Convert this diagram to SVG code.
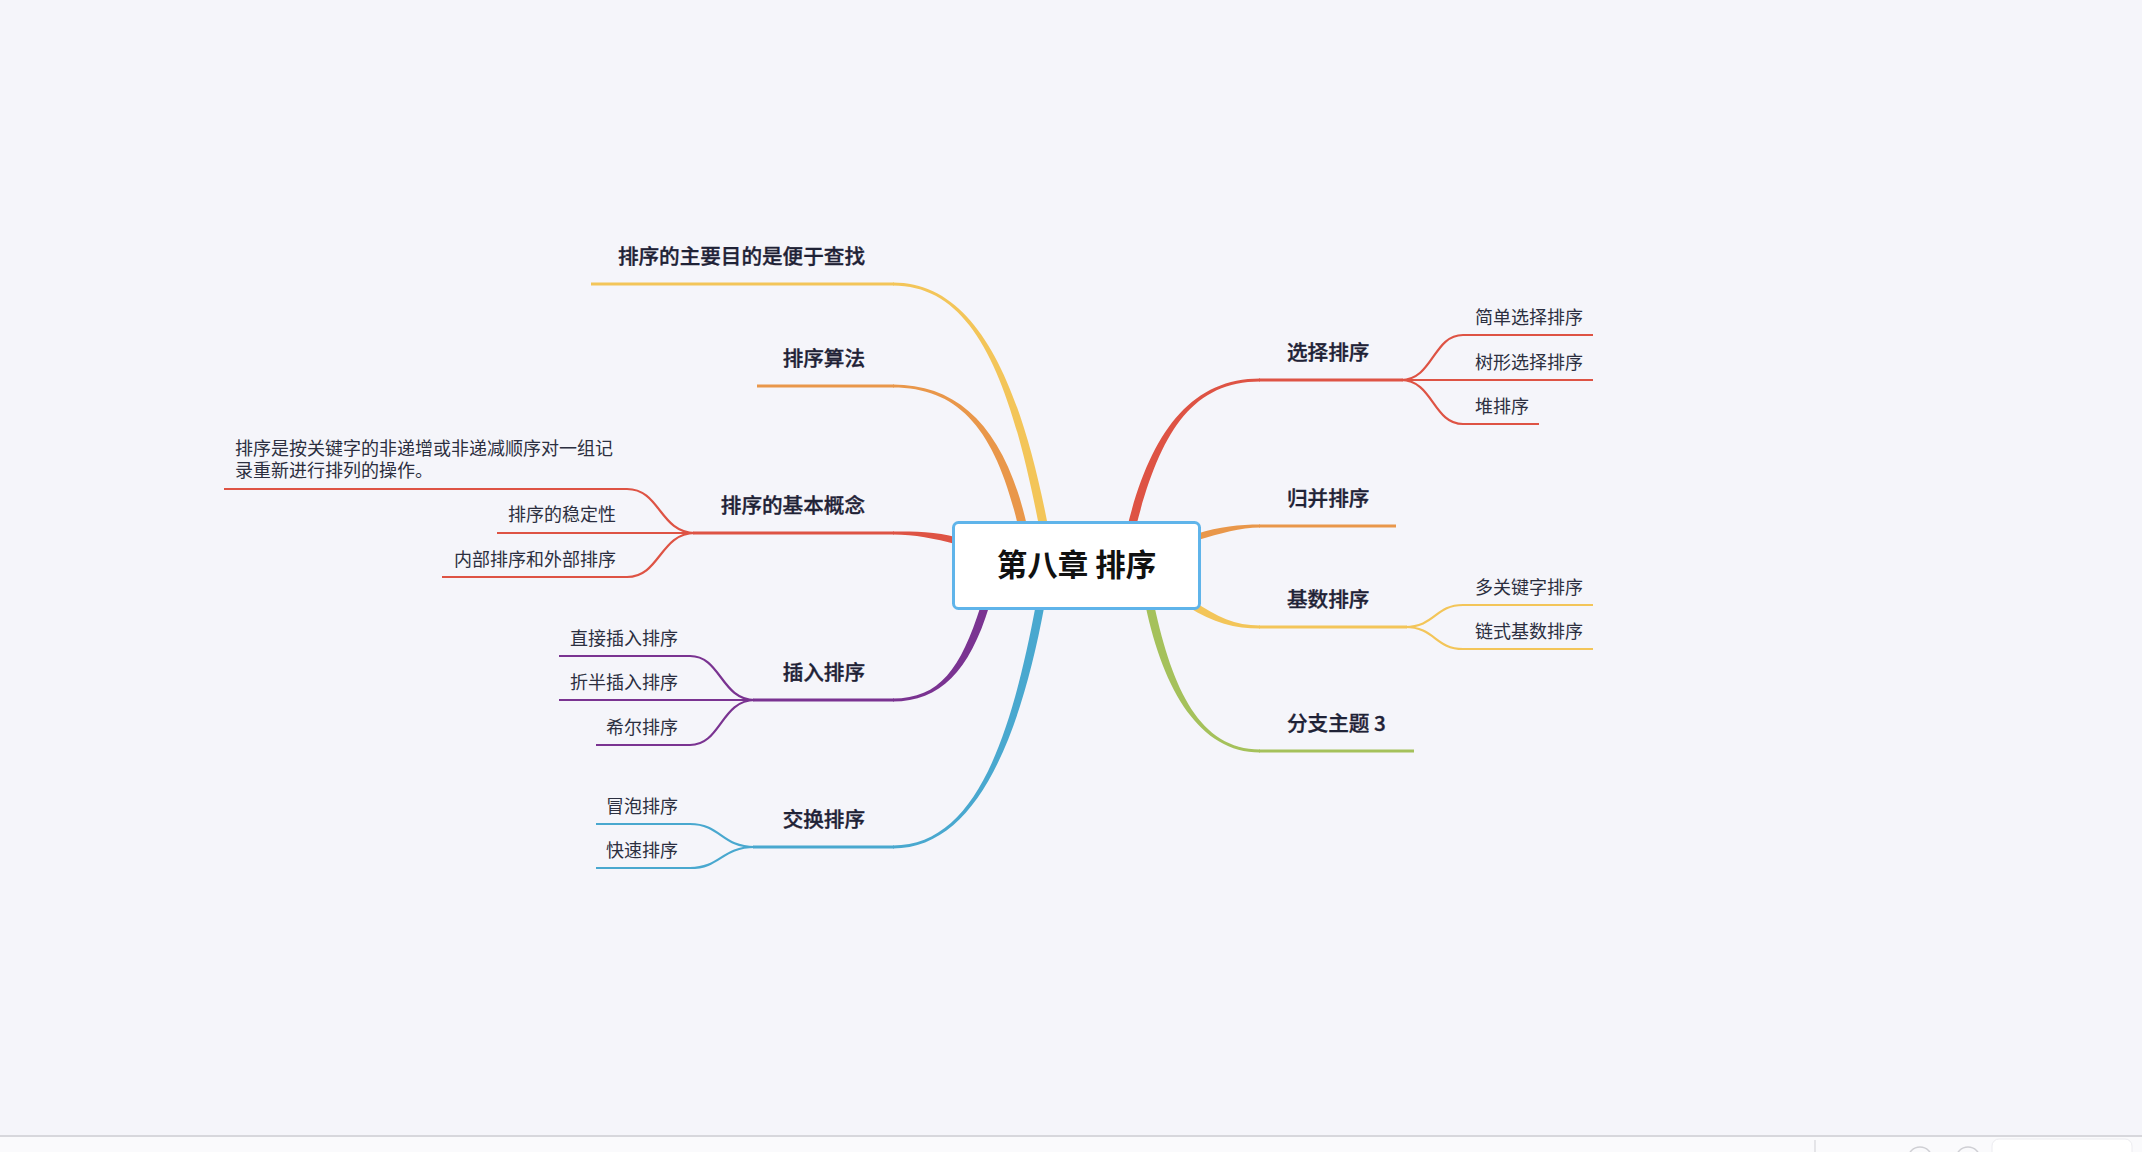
<svg xmlns="http://www.w3.org/2000/svg" width="2142" height="1152" viewBox="0 0 2142 1152">
<style>
.main{font-family:"Noto Sans CJK SC","Noto Sans",sans-serif;font-size:20.6px;font-weight:500;fill:#1f2236;stroke:#1f2236;stroke-width:0.35px}
.sub{font-family:"Noto Sans CJK SC","Noto Sans",sans-serif;font-size:18px;font-weight:400;fill:#2c2f40}
.ctr{font-family:"Noto Sans CJK SC","Noto Sans",sans-serif;font-size:30.5px;font-weight:700;fill:#111}
.l3{fill:none;stroke-width:3;stroke-linecap:butt}
.l2{fill:none;stroke-width:2.2;stroke-linecap:butt}
.yel{stroke:#f3c559}.yelf{fill:#f3c559}
.org{stroke:#e9974a}.orgf{fill:#e9974a}
.red{stroke:#de5344}.redf{fill:#de5344}
.pur{stroke:#7a3391}.purf{fill:#7a3391}
.blu{stroke:#49a8cf}.bluf{fill:#49a8cf}
.grn{stroke:#a5c15b}.grnf{fill:#a5c15b}
</style>
<rect x="0" y="0" width="2142" height="1152" fill="#f5f5fa"/>
<g id="statusbar">
<rect x="0" y="1137" width="2142" height="15" fill="#fafafc"/>
<line x1="0" y1="1136" x2="2142" y2="1136" stroke="#d7d7dc" stroke-width="2"/>
<line x1="1815" y1="1140" x2="1815" y2="1152" stroke="#cfcfd4" stroke-width="1"/>
<circle cx="1920" cy="1159" r="12" fill="none" stroke="#cfcfd4" stroke-width="1.5"/>
<circle cx="1968" cy="1159" r="12" fill="none" stroke="#cfcfd4" stroke-width="1.5"/>
<rect x="1992" y="1139" width="140" height="24" rx="7" fill="#ffffff" stroke="#ececf0" stroke-width="1"/>
</g>
<g id="connectors">
<path class="yelf" d="M1047.4,523 C1019.4,379.1 975,282.5 893,282.5 L893,285.5 C975,285.5 1010.6,380.9 1038.6,524 Z"/>
<path class="orgf" d="M1026.4,523 C1004.4,429 960,384.5 893,384.5 L893,387.5 C960,387.5 995.6,431 1017.6,524 Z"/>
<path class="redf" d="M957,537.6 C936,531.6 915,531.5 893,531.5 L893,534.5 C915,534.5 934,538.4 957,544.4 Z"/>
<path class="purf" d="M980.7,606 C960.7,668.6 940,698.5 893,698.5 L893,701.5 C940,701.5 969.3,671.4 989.3,606 Z"/>
<path class="bluf" d="M1035.6,606 C1010.6,739.2 975,845.5 893,845.5 L893,848.5 C975,848.5 1019.4,740.8 1044.4,606 Z"/>
<path class="redf" d="M1136.4,525 C1159.4,436.2 1190,381.5 1260,381.5 L1260,378.5 C1190,378.5 1150.7,433.8 1127.7,525 Z"/>
<path class="orgf" d="M1197,540.3 C1221.1,533.3 1240,527.5 1260,527.5 L1260,524.5 C1240,524.5 1218.9,526.7 1197,533.7 Z"/>
<path class="yelf" d="M1188.2,607 C1213.2,623 1235,628.5 1260,628.5 L1260,625.5 C1235,625.5 1216.8,617 1193.8,601 Z"/>
<path class="grnf" d="M1145.6,606 C1163.6,691 1200,752.5 1260,752.5 L1260,749.5 C1200,749.5 1172.4,689 1154.4,606 Z"/>
<line class="l3 yel" x1="591" y1="284" x2="894" y2="284"/>
<line class="l3 org" x1="757" y1="386" x2="894" y2="386"/>
<line class="l3 red" x1="693" y1="533" x2="894" y2="533"/>
<line class="l3 pur" x1="753" y1="700" x2="894" y2="700"/>
<line class="l3 blu" x1="753" y1="847" x2="894" y2="847"/>
<line class="l3 red" x1="1259" y1="380" x2="1403" y2="380"/>
<line class="l3 org" x1="1259" y1="526" x2="1396" y2="526"/>
<line class="l3 yel" x1="1259" y1="627" x2="1407" y2="627"/>
<line class="l3 grn" x1="1259" y1="751" x2="1414" y2="751"/>
<path class="l2 red" d="M224,489 L627,489 C660,489 660,533 695,533"/>
<line class="l2 red" x1="497" y1="533" x2="695" y2="533"/>
<path class="l2 red" d="M442,577 L627,577 C660,577 660,533 695,533"/>
<path class="l2 pur" d="M559,656 L690,656 C721,656 721,700 755,700"/>
<line class="l2 pur" x1="559" y1="700" x2="755" y2="700"/>
<path class="l2 pur" d="M596,745 L690,745 C721,745 721,700 755,700"/>
<path class="l2 blu" d="M596,824 L690,824 C721,824 721,847 755,847"/>
<path class="l2 blu" d="M596,868 L690,868 C721,868 721,847 755,847"/>
<path class="l2 red" d="M1401,380 C1433,380 1433,335 1463,335 L1593,335"/>
<line class="l2 red" x1="1401" y1="380" x2="1593" y2="380"/>
<path class="l2 red" d="M1401,380 C1433,380 1433,424 1463,424 L1539,424"/>
<path class="l2 yel" d="M1405,627 C1435,627 1435,605 1463,605 L1593,605"/>
<path class="l2 yel" d="M1405,627 C1435,627 1435,649 1463,649 L1593,649"/>
</g>
<g id="center">
<rect x="953.5" y="522.5" width="246" height="86" rx="5" fill="#ffffff" stroke="#5fb4ea" stroke-width="3"/>
<text class="ctr" x="1076.5" y="576" text-anchor="middle">第八章 排序</text>
</g>
<g id="n-purpose"><text class="main" x="865" y="264" text-anchor="end">排序的主要目的是便于查找</text></g>
<g id="n-algo"><text class="main" x="865" y="366" text-anchor="end">排序算法</text></g>
<g id="n-concept"><text class="main" x="865" y="513" text-anchor="end">排序的基本概念</text></g>
<g id="n-concept-def"><text class="sub" x="235" y="455">排序是按关键字的非递增或非递减顺序对一组记</text><text class="sub" x="235" y="477">录重新进行排列的操作。</text></g>
<g id="n-stability"><text class="sub" x="616" y="521" text-anchor="end">排序的稳定性</text></g>
<g id="n-inout"><text class="sub" x="616" y="566" text-anchor="end">内部排序和外部排序</text></g>
<g id="n-insert"><text class="main" x="865" y="680" text-anchor="end">插入排序</text></g>
<g id="n-direct"><text class="sub" x="678" y="645" text-anchor="end">直接插入排序</text></g>
<g id="n-binary"><text class="sub" x="678" y="689" text-anchor="end">折半插入排序</text></g>
<g id="n-shell"><text class="sub" x="678" y="734" text-anchor="end">希尔排序</text></g>
<g id="n-swap"><text class="main" x="865" y="827" text-anchor="end">交换排序</text></g>
<g id="n-bubble"><text class="sub" x="678" y="813" text-anchor="end">冒泡排序</text></g>
<g id="n-quick"><text class="sub" x="678" y="857" text-anchor="end">快速排序</text></g>
<g id="n-select"><text class="main" x="1287" y="360">选择排序</text></g>
<g id="n-simple"><text class="sub" x="1475" y="324">简单选择排序</text></g>
<g id="n-tree"><text class="sub" x="1475" y="369">树形选择排序</text></g>
<g id="n-heap"><text class="sub" x="1475" y="413">堆排序</text></g>
<g id="n-merge"><text class="main" x="1287" y="506">归并排序</text></g>
<g id="n-radix"><text class="main" x="1287" y="607">基数排序</text></g>
<g id="n-multikey"><text class="sub" x="1475" y="594">多关键字排序</text></g>
<g id="n-chain"><text class="sub" x="1475" y="638">链式基数排序</text></g>
<g id="n-branch3"><text class="main" x="1287" y="731">分支主题 3</text></g>
</svg>
